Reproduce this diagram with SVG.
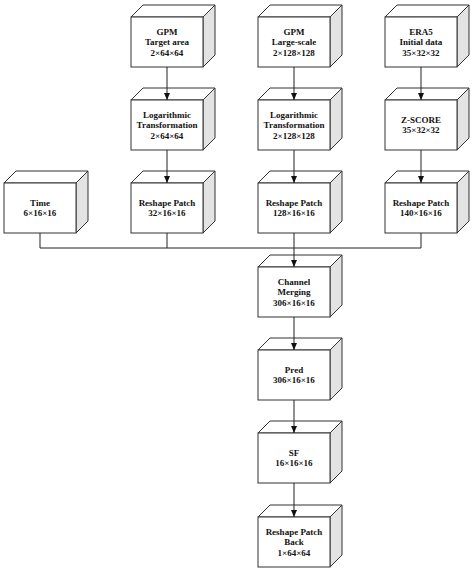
<svg xmlns="http://www.w3.org/2000/svg" width="474" height="571" viewBox="0 0 474 571">
<defs>
<style>
.f{fill:#ffffff;stroke:#333;stroke-width:1}
.s{fill:#e3e3e3;stroke:#333;stroke-width:1}
.t{font-family:"Liberation Serif","Times New Roman",serif;font-weight:bold;font-size:9px;fill:#111;text-anchor:middle}
.c{fill:none;stroke:#222;stroke-width:1}
</style>
<marker id="ah" markerWidth="8" markerHeight="8" refX="7" refY="3" orient="auto" markerUnits="userSpaceOnUse">
<path d="M0,0 L7,3 L0,6 Z" fill="#111"/>
</marker>
</defs>
<rect width="474" height="571" fill="#fff"/>
<g id="gpm-target">
<polygon class="f" points="131,17 143,5 215,5 203,17"/>
<polygon class="s" points="203,17 215,5 215,55 203,67"/>
<rect class="f" x="131" y="17" width="72" height="50"/>
<text class="t" x="167" y="34.5">GPM</text>
<text class="t" x="167" y="45">Target area</text>
<text class="t" x="167" y="55.5">2×64×64</text>
</g>
<g id="gpm-large">
<polygon class="f" points="258,17 270,5 342,5 330,17"/>
<polygon class="s" points="330,17 342,5 342,55 330,67"/>
<rect class="f" x="258" y="17" width="72" height="50"/>
<text class="t" x="294" y="34.5">GPM</text>
<text class="t" x="294" y="45">Large-scale</text>
<text class="t" x="294" y="55.5">2×128×128</text>
</g>
<g id="era5">
<polygon class="f" points="385,17 397,5 469,5 457,17"/>
<polygon class="s" points="457,17 469,5 469,55 457,67"/>
<rect class="f" x="385" y="17" width="72" height="50"/>
<text class="t" x="421" y="34.5">ERA5</text>
<text class="t" x="421" y="45">Initial data</text>
<text class="t" x="421" y="55.5">35×32×32</text>
</g>
<g id="log1">
<polygon class="f" points="131,100 143,88 215,88 203,100"/>
<polygon class="s" points="203,100 215,88 215,138 203,150"/>
<rect class="f" x="131" y="100" width="72" height="50"/>
<text class="t" x="167" y="117.5">Logarithmic</text>
<text class="t" x="167" y="128">Transformation</text>
<text class="t" x="167" y="138.5">2×64×64</text>
</g>
<g id="log2">
<polygon class="f" points="258,100 270,88 342,88 330,100"/>
<polygon class="s" points="330,100 342,88 342,138 330,150"/>
<rect class="f" x="258" y="100" width="72" height="50"/>
<text class="t" x="294" y="117.5">Logarithmic</text>
<text class="t" x="294" y="128">Transformation</text>
<text class="t" x="294" y="138.5">2×128×128</text>
</g>
<g id="zscore">
<polygon class="f" points="385,100 397,88 469,88 457,100"/>
<polygon class="s" points="457,100 469,88 469,138 457,150"/>
<rect class="f" x="385" y="100" width="72" height="50"/>
<text class="t" x="421" y="122.5">Z-SCORE</text>
<text class="t" x="421" y="133">35×32×32</text>
</g>
<g id="time">
<polygon class="f" points="4,183 16,171 88,171 76,183"/>
<polygon class="s" points="76,183 88,171 88,221 76,233"/>
<rect class="f" x="4" y="183" width="72" height="50"/>
<text class="t" x="40" y="205.5">Time</text>
<text class="t" x="40" y="216">6×16×16</text>
</g>
<g id="reshape32">
<polygon class="f" points="131,183 143,171 215,171 203,183"/>
<polygon class="s" points="203,183 215,171 215,221 203,233"/>
<rect class="f" x="131" y="183" width="72" height="50"/>
<text class="t" x="167" y="205.5">Reshape Patch</text>
<text class="t" x="167" y="216">32×16×16</text>
</g>
<g id="reshape128">
<polygon class="f" points="258,183 270,171 342,171 330,183"/>
<polygon class="s" points="330,183 342,171 342,221 330,233"/>
<rect class="f" x="258" y="183" width="72" height="50"/>
<text class="t" x="294" y="205.5">Reshape Patch</text>
<text class="t" x="294" y="216">128×16×16</text>
</g>
<g id="reshape140">
<polygon class="f" points="385,183 397,171 469,171 457,183"/>
<polygon class="s" points="457,183 469,171 469,221 457,233"/>
<rect class="f" x="385" y="183" width="72" height="50"/>
<text class="t" x="421" y="205.5">Reshape Patch</text>
<text class="t" x="421" y="216">140×16×16</text>
</g>
<g id="channel-merging">
<polygon class="f" points="258,267 270,255 342,255 330,267"/>
<polygon class="s" points="330,267 342,255 342,305 330,317"/>
<rect class="f" x="258" y="267" width="72" height="50"/>
<text class="t" x="294" y="284.5">Channel</text>
<text class="t" x="294" y="295">Merging</text>
<text class="t" x="294" y="305.5">306×16×16</text>
</g>
<g id="pred">
<polygon class="f" points="258,350 270,338 342,338 330,350"/>
<polygon class="s" points="330,350 342,338 342,388 330,400"/>
<rect class="f" x="258" y="350" width="72" height="50"/>
<text class="t" x="294" y="372.5">Pred</text>
<text class="t" x="294" y="383">306×16×16</text>
</g>
<g id="sf">
<polygon class="f" points="258,433 270,421 342,421 330,433"/>
<polygon class="s" points="330,433 342,421 342,471 330,483"/>
<rect class="f" x="258" y="433" width="72" height="50"/>
<text class="t" x="294" y="455.5">SF</text>
<text class="t" x="294" y="466">16×16×16</text>
</g>
<g id="reshape-back">
<polygon class="f" points="258,517 270,505 342,505 330,517"/>
<polygon class="s" points="330,517 342,505 342,555 330,567"/>
<rect class="f" x="258" y="517" width="72" height="50"/>
<text class="t" x="294" y="534.5">Reshape Patch</text>
<text class="t" x="294" y="545">Back</text>
<text class="t" x="294" y="555.5">1×64×64</text>
</g>
<g id="connectors">
<line class="c" x1="167" y1="67" x2="167" y2="100" marker-end="url(#ah)"/>
<line class="c" x1="294" y1="67" x2="294" y2="100" marker-end="url(#ah)"/>
<line class="c" x1="421" y1="67" x2="421" y2="100" marker-end="url(#ah)"/>
<line class="c" x1="167" y1="150" x2="167" y2="183" marker-end="url(#ah)"/>
<line class="c" x1="294" y1="150" x2="294" y2="183" marker-end="url(#ah)"/>
<line class="c" x1="421" y1="150" x2="421" y2="183" marker-end="url(#ah)"/>
<polyline class="c" points="40,233 40,248 421,248 421,233"/>
<line class="c" x1="167" y1="233" x2="167" y2="248"/>
<line class="c" x1="294" y1="233" x2="294" y2="267" marker-end="url(#ah)"/>
<line class="c" x1="294" y1="317" x2="294" y2="350" marker-end="url(#ah)"/>
<line class="c" x1="294" y1="400" x2="294" y2="433" marker-end="url(#ah)"/>
<line class="c" x1="294" y1="483" x2="294" y2="517" marker-end="url(#ah)"/>
</g>
</svg>
